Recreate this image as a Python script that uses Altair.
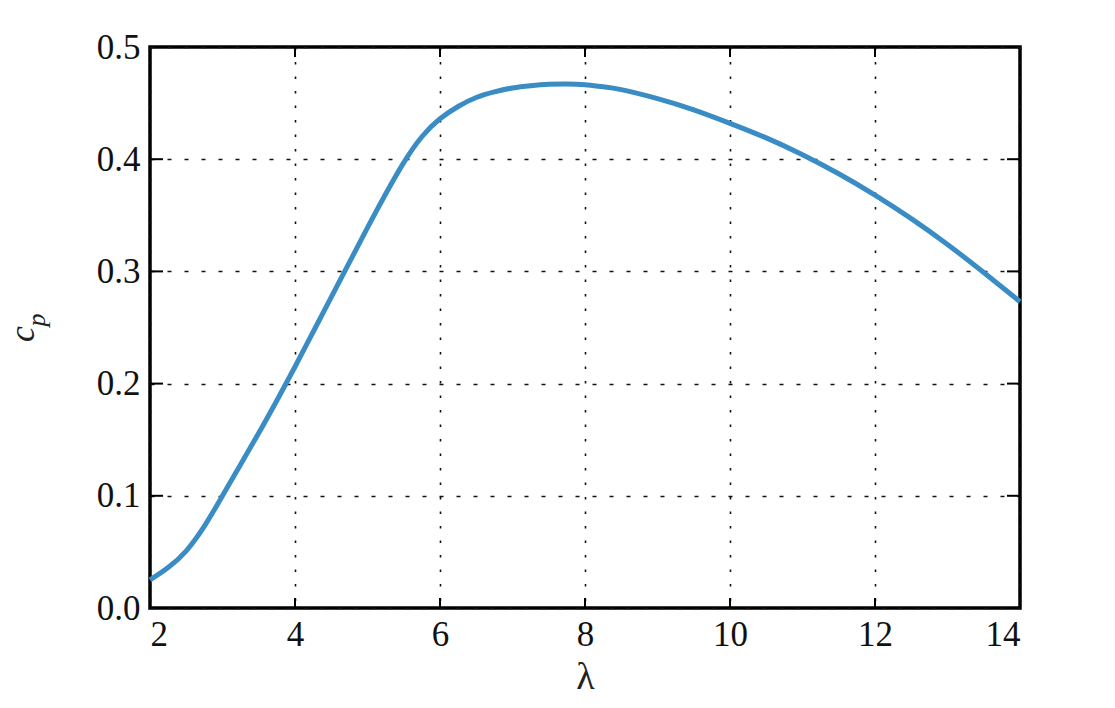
import altair as alt
import pandas as pd

lam = [2.0, 2.25, 2.5, 2.75, 3.0, 3.25, 3.5, 3.75, 4.0, 4.25, 4.5, 4.75, 5.0, 5.25,
       5.5, 5.75, 6.0, 6.25, 6.5, 6.75, 7.0, 7.25, 7.5, 7.75, 8.0, 8.25, 8.5, 9.0,
       9.5, 10.0, 10.5, 11.0, 11.5, 12.0, 12.5, 13.0, 13.5, 14.0]
cp = [0.025, 0.036, 0.051, 0.073, 0.100, 0.128, 0.156, 0.185, 0.215, 0.246, 0.277,
      0.308, 0.339, 0.369, 0.397, 0.420, 0.436, 0.447, 0.455, 0.460, 0.4635, 0.4655,
      0.4667, 0.467, 0.4663, 0.4645, 0.462, 0.454, 0.444, 0.432, 0.419, 0.404,
      0.387, 0.368, 0.347, 0.324, 0.299, 0.273]

x_ticks = [2, 4, 6, 8, 10, 12, 14]
y_ticks = [0.0, 0.1, 0.2, 0.3, 0.4, 0.5]
x_inner = [4, 6, 8, 10, 12]
y_inner = [0.1, 0.2, 0.3, 0.4]

W, H = 870, 561
FONT = "Liberation Serif"
BLUE = "#3A8DC4"

df = pd.DataFrame({"lam": lam, "cp": cp})
xs = alt.Scale(domain=[2, 14], nice=False, zero=False)
ys = alt.Scale(domain=[0, 0.5], nice=False)

line = alt.Chart(df).mark_line(color=BLUE, strokeWidth=5, interpolate="natural").encode(
    x=alt.X("lam:Q", scale=xs,
            axis=alt.Axis(values=x_ticks, format="d", title="λ", grid=True,
                          gridColor="#111", gridDash=[2.5, 12], gridWidth=1.6,
                          ticks=False, domain=False, labelPadding=9,
                          labelFont=FONT, labelFontSize=35, labelColor="#111",
                          titleFont=FONT, titleFontSize=38, titleFontWeight="normal",
                          titleColor="#222", titlePadding=6)),
    y=alt.Y("cp:Q", scale=ys,
            axis=alt.Axis(values=y_ticks, format=".1f", title=None, grid=True,
                          gridColor="#111", gridDash=[4, 13], gridWidth=1.6,
                          ticks=False, domain=False, labelPadding=10,
                          labelFont=FONT, labelFontSize=35, labelColor="#111")),
)

xt = pd.DataFrame({"v": x_inner})
yt = pd.DataFrame({"v": y_inner})
tick_style = dict(color="black", strokeWidth=2)
bottom_ticks = alt.Chart(xt).mark_rule(**tick_style).encode(
    x=alt.X("v:Q", scale=xs), y=alt.value(H), y2=alt.value(H - 10))
top_ticks = alt.Chart(xt).mark_rule(**tick_style).encode(
    x=alt.X("v:Q", scale=xs), y=alt.value(0), y2=alt.value(10))
left_ticks = alt.Chart(yt).mark_rule(**tick_style).encode(
    y=alt.Y("v:Q", scale=ys), x=alt.value(0), x2=alt.value(13))
right_ticks = alt.Chart(yt).mark_rule(**tick_style).encode(
    y=alt.Y("v:Q", scale=ys), x=alt.value(W), x2=alt.value(W - 13))

ytitle_c = alt.Chart(pd.DataFrame({"t": ["c"]})).mark_text(
    font=FONT, fontSize=36, fontStyle="italic", angle=270, color="#222",
    align="center", baseline="middle").encode(
    text="t:N", x=alt.value(-127), y=alt.value(287))
ytitle_p = alt.Chart(pd.DataFrame({"t": ["p"]})).mark_text(
    font=FONT, fontSize=26, fontStyle="italic", angle=270, color="#222",
    align="center", baseline="middle").encode(
    text="t:N", x=alt.value(-113), y=alt.value(273))

chart = alt.layer(line, bottom_ticks, top_ticks, left_ticks, right_ticks, ytitle_c, ytitle_p).properties(
    width=W, height=H,
    autosize=alt.AutoSizeParams(type="none"),
    padding={"left": 142, "top": 39, "right": 80, "bottom": 100},
    background="white",
).configure_view(stroke="black", strokeWidth=3.5)

chart.save("out.html", embed_options={"renderer": "svg", "actions": False})
